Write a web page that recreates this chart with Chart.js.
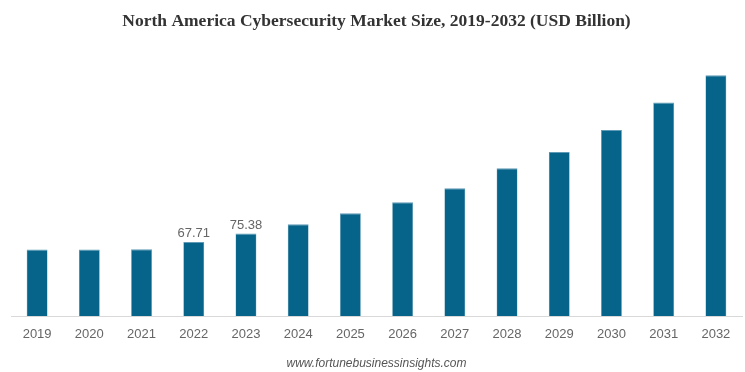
<!DOCTYPE html>
<html>
<head>
<meta charset="utf-8">
<script src="https://cdn.jsdelivr.net/npm/chart.js@4"></script>
<style>
  html, body { margin: 0; padding: 0; background: #fff; }
  #wrap { width: 745px; height: 372px; }
</style>
</head>
<body>
<div id="wrap"><canvas id="c" width="745" height="372"></canvas></div>
<script>
const years = ['2019','2020','2021','2022','2023','2024','2025','2026','2027','2028','2029','2030','2031','2032'];
const marketSize = [60.7, 60.8, 61.0, 67.71, 75.38, 84.0, 94.0, 104.1, 116.9, 135.2, 149.9, 170.0, 195.1, 220.1];
const labelledYears = ['2022', '2023'];
const titleText = 'North America Cybersecurity Market Size, 2019-2032 (USD Billion)';
const sourceText = 'www.fortunebusinessinsights.com';

const valueLabels = {
  id: 'valueLabels',
  afterDatasetsDraw(chart) {
    const ctx = chart.ctx;
    const meta = chart.getDatasetMeta(0);
    ctx.save();
    ctx.font = '13px "Liberation Sans", Arial, sans-serif';
    ctx.fillStyle = '#666666';
    ctx.textAlign = 'center';
    ctx.textBaseline = 'bottom';
    years.forEach((y, i) => {
      if (labelledYears.includes(y)) {
        const bar = meta.data[i];
        ctx.fillText(marketSize[i].toFixed(2), bar.x, bar.y - 2);
      }
    });
    ctx.restore();
  }
};

new Chart(document.getElementById('c'), {
  type: 'bar',
  data: {
    labels: years,
    datasets: [{
      data: marketSize,
      backgroundColor: '#06648a',
      borderColor: '#5f9bb6',
      borderWidth: { top: 1, left: 0.5, right: 0.5, bottom: 0 },
      barPercentage: 0.8,
      categoryPercentage: 0.5
    }]
  },
  options: {
    responsive: false,
    animation: false,
    devicePixelRatio: 1,
    layout: { padding: { left: 11, right: 3, top: 0, bottom: 0 } },
    plugins: {
      legend: { display: false },
      tooltip: { enabled: false },
      title: {
        display: true,
        text: titleText,
        color: '#333333',
        font: { family: '"Liberation Serif", "Times New Roman", serif', size: 17.5, weight: 'bold' },
        padding: { top: 11, bottom: 21.5 }
      },
      subtitle: {
        display: true,
        position: 'bottom',
        text: sourceText,
        color: '#555555',
        font: { family: '"Liberation Sans", Arial, sans-serif', size: 12, style: 'italic' },
        padding: { top: 11, bottom: 1 }
      }
    },
    scales: {
      x: {
        grid: { display: false },
        border: { display: true, color: '#d9d9d9', width: 1 },
        ticks: {
          color: '#666666',
          font: { family: '"Liberation Sans", Arial, sans-serif', size: 13 },
          padding: 3,
          maxRotation: 0
        }
      },
      y: {
        display: false,
        min: 0,
        max: 240
      }
    }
  },
  plugins: [valueLabels]
});
</script>
</body>
</html>
